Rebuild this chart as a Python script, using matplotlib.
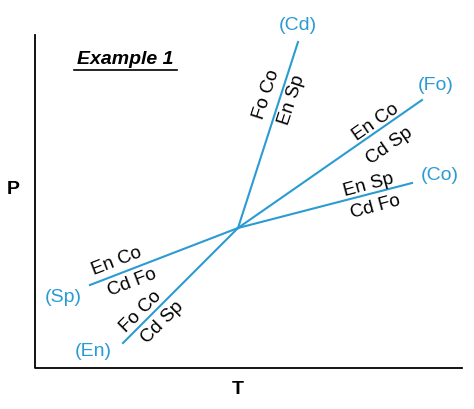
import matplotlib
matplotlib.use("Agg")
import matplotlib.pyplot as plt
import numpy as np

BLUE = "#2b9bd3"

# invariant point and ray end points (T, P in picture units)
inv_pt = (238, 228)
ray_names = ["(Cd)", "(Fo)", "(Co)", "(Sp)", "(En)"]
ray_ends = [(298, 42), (422, 100), (412, 183), (90, 285), (123, 343)]
name_pos = [(298, 25), (436, 85), (440, 175), (63, 298), (93, 352)]

# reaction labels: (text, x, y, rotation)
rxn_labels = [
    ("Fo Co", 267, 94, 72), ("En Sp", 292, 100, 72),
    ("En Co", 376, 122, 35), ("Cd Sp", 389, 146, 35),
    ("En Sp", 369, 185, 15), ("Cd Fo", 375, 207, 15),
    ("En Co", 117, 261, 21), ("Cd Fo", 132, 283, 21),
    ("Fo Co", 141, 312, 45), ("Cd Sp", 162, 323, 45),
]

plt.rcParams["font.family"] = ["Liberation Sans", "DejaVu Sans"]
fig = plt.figure(figsize=(4.74, 4.09), dpi=100)
ax = fig.add_axes([0, 0, 1, 1])
ax.set_xlim(0, 474)
ax.set_ylim(409, 0)
ax.axis("off")

# frame axes
ax.plot([35, 35, 462], [35, 368, 368], color="black", lw=1.3)

for end in ray_ends:
    ax.plot([inv_pt[0], end[0]], [inv_pt[1], end[1]], color=BLUE, lw=1.5)
for name, (x, y) in zip(ray_names, name_pos):
    ax.text(x, y, name, color=BLUE, fontsize=14, ha="center", va="center")
for txt, x, y, rot in rxn_labels:
    ax.text(x, y, txt, fontsize=13.5, ha="center", va="center", rotation=rot)

ax.text(125, 59, "Example 1", fontsize=14, fontweight="bold", style="italic",
        ha="center", va="center")
ax.plot([74, 177], [70, 70], color="black", lw=1.2)
ax.text(13, 190, "P", fontsize=14, fontweight="bold", ha="center", va="center")
ax.text(238, 390, "T", fontsize=14, fontweight="bold", ha="center", va="center")

fig.savefig("out.png", dpi=100)
